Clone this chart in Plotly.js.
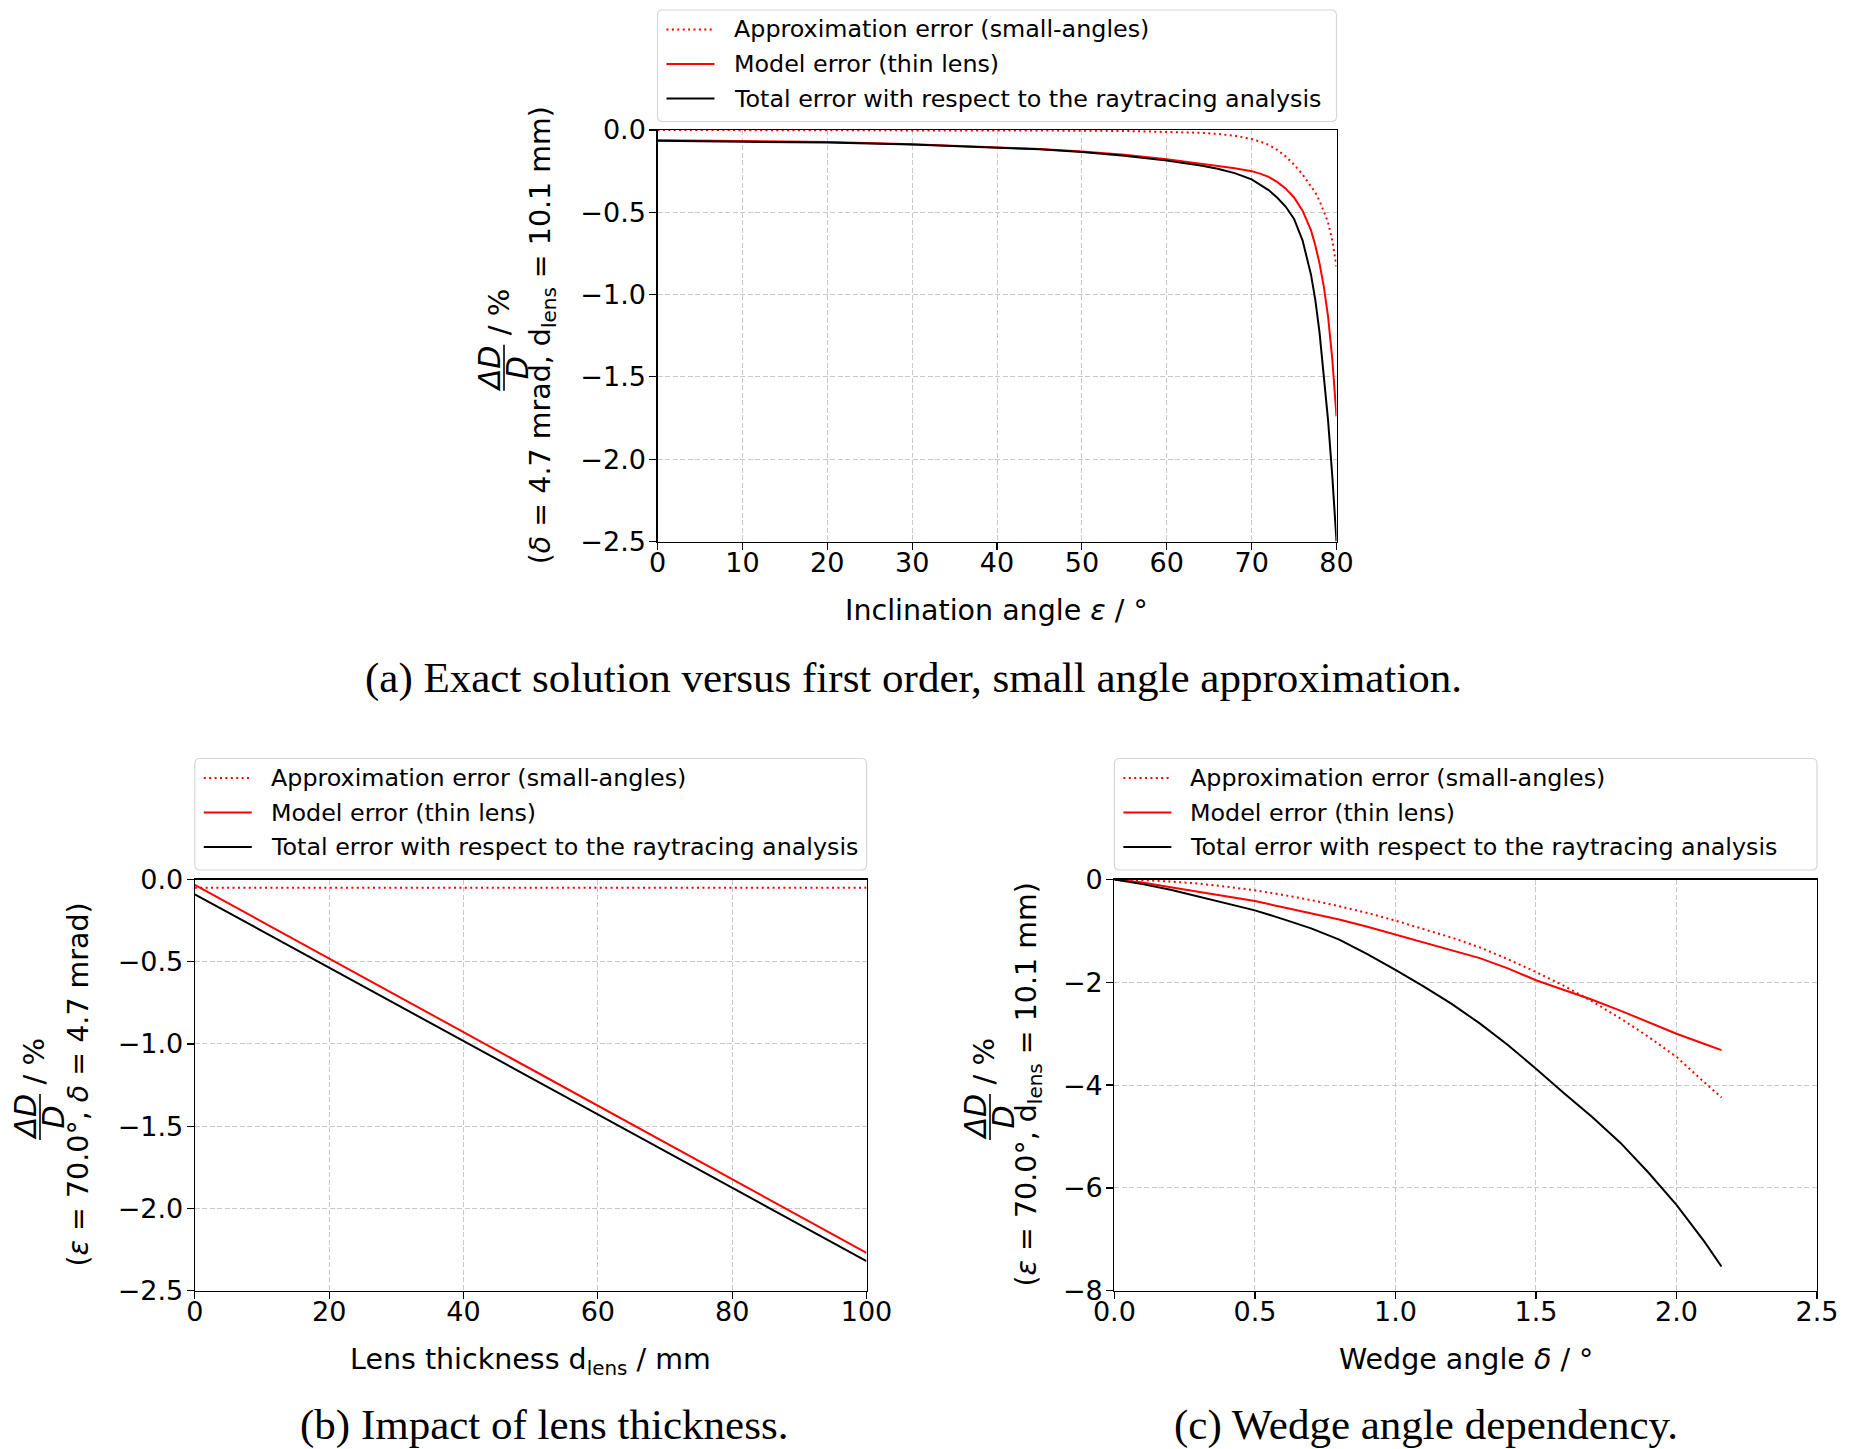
<!DOCTYPE html>
<html>
<head>
<meta charset="utf-8">
<script src="https://cdn.plot.ly/plotly-3.0.1.min.js"></script>
<style>
  html, body { margin: 0; padding: 0; background: #ffffff; }
  #fig { width: 1851px; height: 1449px; }
</style>
</head>
<body>
<div id="fig"></div>
<script>
// ---------------------------------------------------------------------------
// Data
// ---------------------------------------------------------------------------
const seriesNames = [
  "Approximation error (small-angles)",
  "Model error (thin lens)",
  "Total error with respect to the raytracing analysis"
];

// (a) error vs. inclination angle ε [deg]
const inclinationDeg = [0, 10, 20, 30, 40, 45, 50, 55, 60, 62, 64, 66, 68, 70, 71, 72, 73, 74, 75, 76, 77, 77.5, 78, 78.5, 79, 79.5, 80];
const inclApprox = [0, -0.0002, -0.0005, -0.001, -0.002, -0.003, -0.004, -0.006, -0.01, -0.013, -0.017, -0.024, -0.035, -0.055, -0.07, -0.09, -0.12, -0.16, -0.21, -0.27, -0.34, -0.38, -0.43, -0.49, -0.56, -0.67, -0.83];
const inclModel  = [-0.062, -0.066, -0.073, -0.086, -0.103, -0.115, -0.131, -0.151, -0.177, -0.19, -0.203, -0.217, -0.232, -0.25, -0.265, -0.285, -0.315, -0.355, -0.41, -0.49, -0.61, -0.7, -0.81, -0.95, -1.13, -1.39, -1.74];
const inclTotal  = [-0.066, -0.069, -0.076, -0.088, -0.105, -0.117, -0.134, -0.156, -0.186, -0.2, -0.216, -0.235, -0.262, -0.3, -0.33, -0.365, -0.41, -0.465, -0.54, -0.67, -0.88, -1.03, -1.23, -1.48, -1.76, -2.1, -2.5];

// (b) error vs. lens thickness d_lens [mm]
const lensMm     = [0, 10, 20, 30, 40, 50, 60, 70, 80, 90, 100];
const lensApprox = [-0.05, -0.05, -0.05, -0.05, -0.05, -0.05, -0.05, -0.05, -0.05, -0.05, -0.05];
const lensModel  = [-0.033, -0.257, -0.48, -0.704, -0.928, -1.152, -1.375, -1.599, -1.823, -2.046, -2.27];
const lensTotal  = [-0.09, -0.313, -0.536, -0.759, -0.982, -1.205, -1.428, -1.651, -1.874, -2.097, -2.32];

// (c) error vs. wedge angle δ [deg]
const wedgeDeg    = [0, 0.1, 0.2, 0.3, 0.4, 0.5, 0.6, 0.7, 0.8, 0.9, 1.0, 1.1, 1.2, 1.3, 1.4, 1.5, 1.6, 1.7, 1.8, 1.9, 2.0, 2.1, 2.16];
const wedgeApprox = [0, -0.01, -0.04, -0.08, -0.14, -0.21, -0.3, -0.4, -0.52, -0.65, -0.8, -0.96, -1.13, -1.32, -1.55, -1.8, -2.07, -2.37, -2.7, -3.06, -3.45, -3.95, -4.24];
const wedgeModel  = [0, -0.06, -0.15, -0.24, -0.33, -0.42, -0.54, -0.66, -0.78, -0.92, -1.07, -1.22, -1.38, -1.53, -1.73, -1.96, -2.15, -2.34, -2.55, -2.77, -3.0, -3.2, -3.32];
const wedgeTotal  = [0, -0.09, -0.2, -0.33, -0.46, -0.6, -0.77, -0.95, -1.17, -1.45, -1.76, -2.08, -2.42, -2.8, -3.22, -3.68, -4.16, -4.62, -5.12, -5.7, -6.33, -7.05, -7.53];

// Texts
const xTitles = [
  "Inclination angle <i>ε</i> / °",
  "Lens thickness d<sub>lens</sub> / mm",
  "Wedge angle <i>δ</i> / °"
];
const yConditions = [
  "(<i>δ</i> = 4.7 mrad, d<sub>lens</sub> = 10.1 mm)",
  "(<i>ε</i> = 70.0°, <i>δ</i> = 4.7 mrad)",
  "(<i>ε</i> = 70.0°, d<sub>lens</sub> = 10.1 mm)"
];
const captions = [
  "(a) Exact solution versus first order, small angle approximation.",
  "(b) Impact of lens thickness.",
  "(c) Wedge angle dependency."
];

// ---------------------------------------------------------------------------
// Layout helpers (page is 1851 x 1449 px, margins 0 -> paper == page)
// ---------------------------------------------------------------------------
const W = 1851, H = 1449;
const px = x => x / W;
const py = y => 1 - y / H;

const SANS = "DejaVu Sans";
const SERIF = "Liberation Serif, Times New Roman, serif";

const seriesStyle = [
  { color: "#ff0000", width: 2, dash: "2px,3.4px" },
  { color: "#ff0000", width: 2, dash: "solid" },
  { color: "#000000", width: 2, dash: "solid" }
];

// Pixel boxes of the three subplots
const panels = [
  { xa: "x",  ya: "y",  left: 657.5,  right: 1336.5, top: 130,   bottom: 541.5,
    xrange: [0, 80],  xdtick: 10,  xfmt: "d",   yrange: [-2.5, 0], ydtick: 0.5, yfmt: ".1f",
    x: inclinationDeg, ys: [inclApprox, inclModel, inclTotal],
    legendTop: 10, yTitleX: 542.5, captionX: 913, captionY: 678 },
  { xa: "x2", ya: "y2", left: 194.8,  right: 866.5,  top: 879.5, bottom: 1290.7,
    xrange: [0, 100], xdtick: 20,  xfmt: "d",   yrange: [-2.5, 0], ydtick: 0.5, yfmt: ".1f",
    x: lensMm, ys: [lensApprox, lensModel, lensTotal],
    legendTop: 758.5, yTitleX: 78.5, captionX: 543.6, captionY: 1425 },
  { xa: "x3", ya: "y3", left: 1114.4, right: 1817,   top: 879.5, bottom: 1290.7,
    xrange: [0, 2.5], xdtick: 0.5, xfmt: ".1f", yrange: [-8, 0],   ydtick: 2,   yfmt: "d",
    x: wedgeDeg, ys: [wedgeApprox, wedgeModel, wedgeTotal],
    legendTop: 758.5, yTitleX: 1028.5, captionX: 1425.5, captionY: 1425 }
];

function axisCfg(p, isX) {
  return {
    domain: isX ? [px(p.left), px(p.right)] : [py(p.bottom), py(p.top)],
    anchor: isX ? p.ya : p.xa,
    range: isX ? p.xrange : p.yrange,
    tick0: 0,
    dtick: isX ? p.xdtick : p.ydtick,
    tickformat: isX ? p.xfmt : p.yfmt,
    showline: true, linecolor: "#000000", linewidth: 1.2, mirror: true,
    ticks: "outside", ticklen: 7, tickwidth: 1.2, tickcolor: "#000000",
    ticklabelstandoff: isX ? -10 : -2,
    showgrid: true, gridcolor: "#c8c8c8", gridwidth: 1, griddash: "5px,2.5px",
    zeroline: false, automargin: false, fixedrange: true,
    tickfont: { family: SANS, size: 27, color: "#000000" }
  };
}

function roundRect(l, t, r, b, rad) {
  const X = v => px(v), Y = v => py(v);
  return "M" + X(l + rad) + "," + Y(t) +
         " L" + X(r - rad) + "," + Y(t) +
         " Q" + X(r) + "," + Y(t) + " " + X(r) + "," + Y(t + rad) +
         " L" + X(r) + "," + Y(b - rad) +
         " Q" + X(r) + "," + Y(b) + " " + X(r - rad) + "," + Y(b) +
         " L" + X(l + rad) + "," + Y(b) +
         " Q" + X(l) + "," + Y(b) + " " + X(l) + "," + Y(b - rad) +
         " L" + X(l) + "," + Y(t + rad) +
         " Q" + X(l) + "," + Y(t) + " " + X(l + rad) + "," + Y(t) + " Z";
}

const traces = [];
const shapes = [];
const annotations = [];
const layout = {
  width: W, height: H,
  margin: { l: 0, r: 0, t: 0, b: 0, pad: 0 },
  paper_bgcolor: "#ffffff",
  plot_bgcolor: "#ffffff",
  showlegend: false,
  font: { family: SANS, color: "#000000" },
  shapes: shapes,
  annotations: annotations
};

function text(str, x, y, size, opts) {
  annotations.push(Object.assign({
    text: str, xref: "paper", yref: "paper", x: px(x), y: py(y),
    xanchor: "center", yanchor: "middle", showarrow: false,
    font: { family: SANS, size: size, color: "#000000" }
  }, opts || {}));
}

panels.forEach((p, i) => {
  const suffix = i === 0 ? "" : String(i + 1);
  layout["xaxis" + suffix] = axisCfg(p, true);
  layout["yaxis" + suffix] = axisCfg(p, false);

  // data lines
  p.ys.forEach((ys, k) => {
    traces.push({
      type: "scatter", mode: "lines",
      x: p.x, y: ys, xaxis: p.xa, yaxis: p.ya,
      name: seriesNames[k],
      line: { color: seriesStyle[k].color, width: seriesStyle[k].width, dash: seriesStyle[k].dash },
      hoverinfo: "skip"
    });
  });

  // legend box with one sample line + label per series
  const lt = p.legendTop, lb = lt + 111.5;
  shapes.push({
    type: "path", xref: "paper", yref: "paper", layer: "above",
    path: roundRect(p.left, lt, p.right, lb, 5),
    line: { color: "#d6d6d6", width: 1.2 },
    fillcolor: "rgba(255,255,255,0.8)"
  });
  [19.5, 54, 88.5].forEach((dy, k) => {
    const yy = lt + dy;
    shapes.push({
      type: "line", xref: "paper", yref: "paper", layer: "above",
      x0: px(p.left + 9), x1: px(p.left + 57), y0: py(yy), y1: py(yy),
      line: { color: seriesStyle[k].color, width: seriesStyle[k].width, dash: seriesStyle[k].dash }
    });
    text(seriesNames[k], p.left + 74, yy, 23.8, { xanchor: "left" });
  });

  // x-axis title
  const hasSub = xTitles[i].indexOf("<sub>") >= 0;
  text(xTitles[i], (p.left + p.right) / 2, p.bottom + 69 + (hasSub ? 2 : 0), 28.5);

  // y-axis title: fraction ΔD/D, "/ %" and the condition line
  const cy = (p.top + p.bottom) / 2;
  const cx = p.yTitleX;
  text(yConditions[i], cx, cy, 28.5, { textangle: -90 });
  text("<i>ΔD</i>", cx - 53, cy + 32, 30, { textangle: -90 });
  text("<i>D</i>", cx - 25, cy + 32, 30, { textangle: -90 });
  text("/ %", cx - 44, cy - 24, 29, { textangle: -90 });
  shapes.push({
    type: "line", xref: "paper", yref: "paper", layer: "above",
    x0: px(cx - 38.5), x1: px(cx - 38.5), y0: py(cy + 32 - 23), y1: py(cy + 32 + 23),
    line: { color: "#000000", width: 1.6 }
  });

  // caption
  text(captions[i], p.captionX, p.captionY, 43, { font: { family: SERIF, size: 43, color: "#000000" } });
});

Plotly.newPlot("fig", traces, layout, { staticPlot: true, displayModeBar: false });
</script>
</body>
</html>
